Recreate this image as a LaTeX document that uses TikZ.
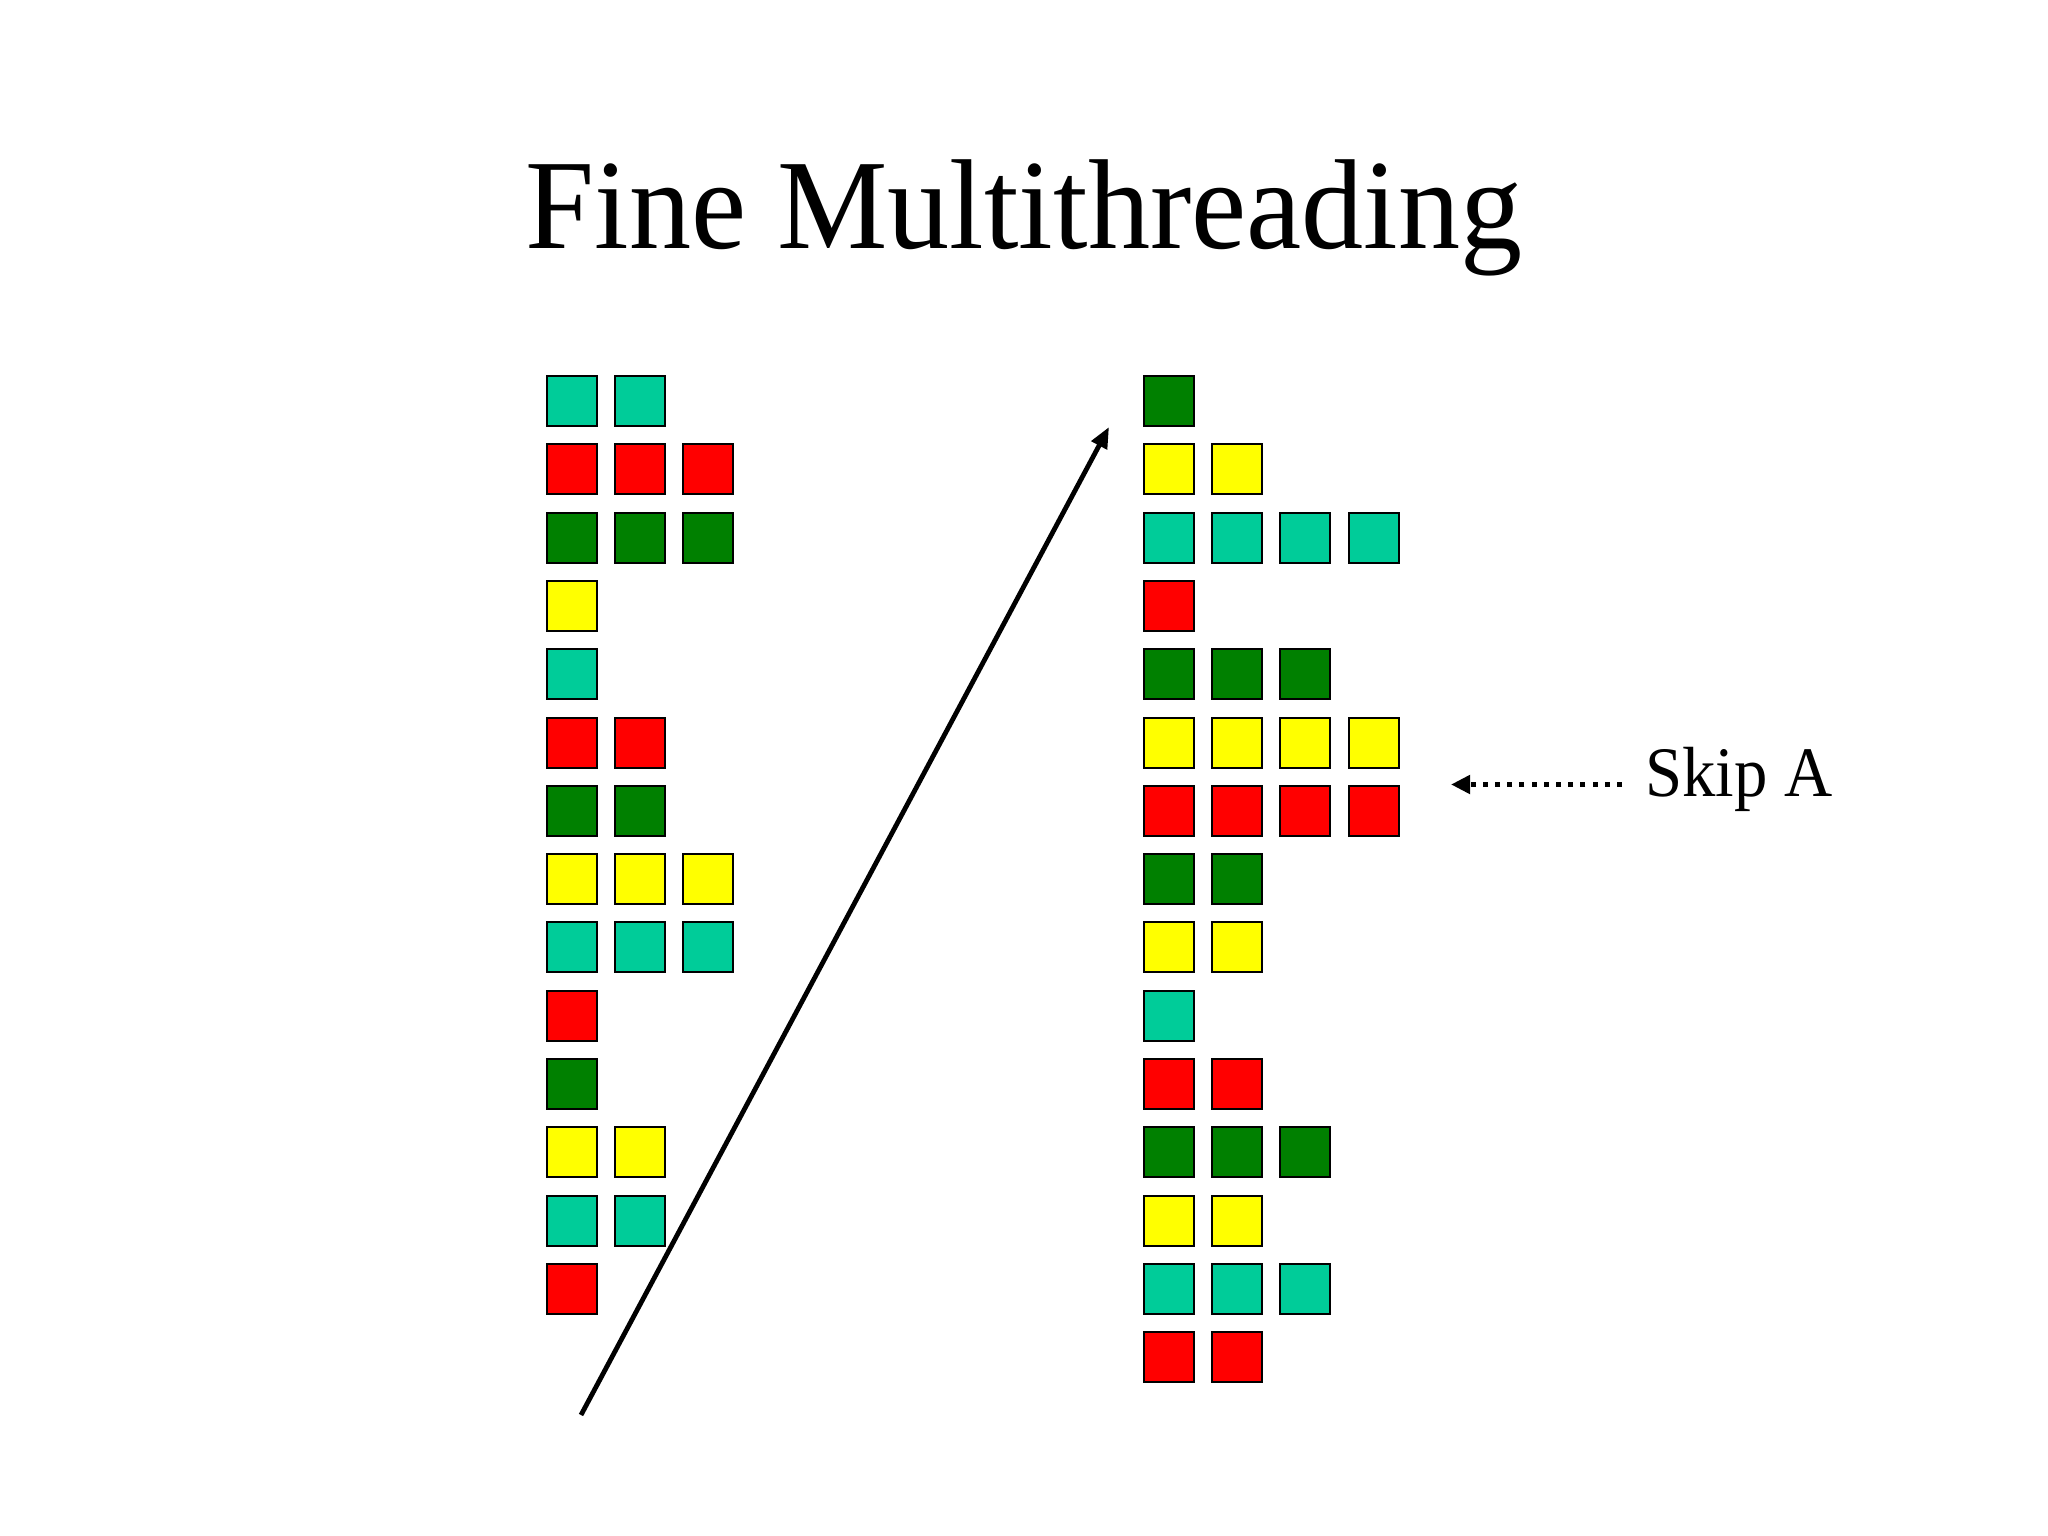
\documentclass[tikz,border=0pt]{standalone}
\usepackage{fontspec}
\setmainfont{Liberation Serif}
\usetikzlibrary{arrows.meta}
\definecolor{tcyan}{RGB}{0,204,153}
\definecolor{tred}{RGB}{255,0,0}
\definecolor{tgreen}{RGB}{0,128,0}
\definecolor{tyellow}{RGB}{255,255,0}
\begin{document}
\begin{tikzpicture}[x=1pt,y=-1pt,
  cell/.style={draw=black,line width=2pt,minimum size=50pt,inner sep=0pt,outer sep=0pt,anchor=north west},
  bigarrow/.style={line width=4.8pt,-{Triangle[length=21pt,width=17pt]}},
  skiparrow/.style={line width=5pt,dash pattern=on 5pt off 7.2pt,-{Triangle[length=19pt,width=18pt]}}]
\fill[white] (0,0) rectangle (2048,1536);
\useasboundingbox (0,0) rectangle (2048,1536);
\node[anchor=base,inner sep=0pt,font=\fontsize{128}{150}\selectfont] (title) at (1024,248) {\scalebox{0.97}[1]{Fine Multithreading}};
% left column
\foreach \r/\c/\n in {0/tcyan/2,1/tred/3,2/tgreen/3,3/tyellow/1,4/tcyan/1,5/tred/2,6/tgreen/2,7/tyellow/3,8/tcyan/3,9/tred/1,10/tgreen/1,11/tyellow/2,12/tcyan/2,13/tred/1}{
  \foreach \k in {1,...,\n}{
    \node[cell,fill=\c] (L-\r-\k) at ({546.5+68.3*(\k-1)},{376+68.3*\r}) {};
  }
}
% right column
\foreach \r/\c/\n in {0/tgreen/1,1/tyellow/2,2/tcyan/4,3/tred/1,4/tgreen/3,5/tyellow/4,6/tred/4,7/tgreen/2,8/tyellow/2,9/tcyan/1,10/tred/2,11/tgreen/3,12/tyellow/2,13/tcyan/3,14/tred/2}{
  \foreach \k in {1,...,\n}{
    \node[cell,fill=\c] (R-\r-\k) at ({1143.7+68.3*(\k-1)},{376+68.3*\r}) {};
  }
}
\coordinate (a0) at (581,1415);
\coordinate (a1) at (1109,427);
\draw[bigarrow] (a0) -- (a1);
\node[anchor=base west,inner sep=0pt,font=\fontsize{71}{85}\selectfont] (skip) at (1645,796) {\scalebox{0.94}[1]{Skip A}};
\coordinate (s0) at (1622,784.5);
\coordinate (s1) at (1451,784.5);
\draw[skiparrow] (s0) -- (s1);
\end{tikzpicture}
\end{document}
